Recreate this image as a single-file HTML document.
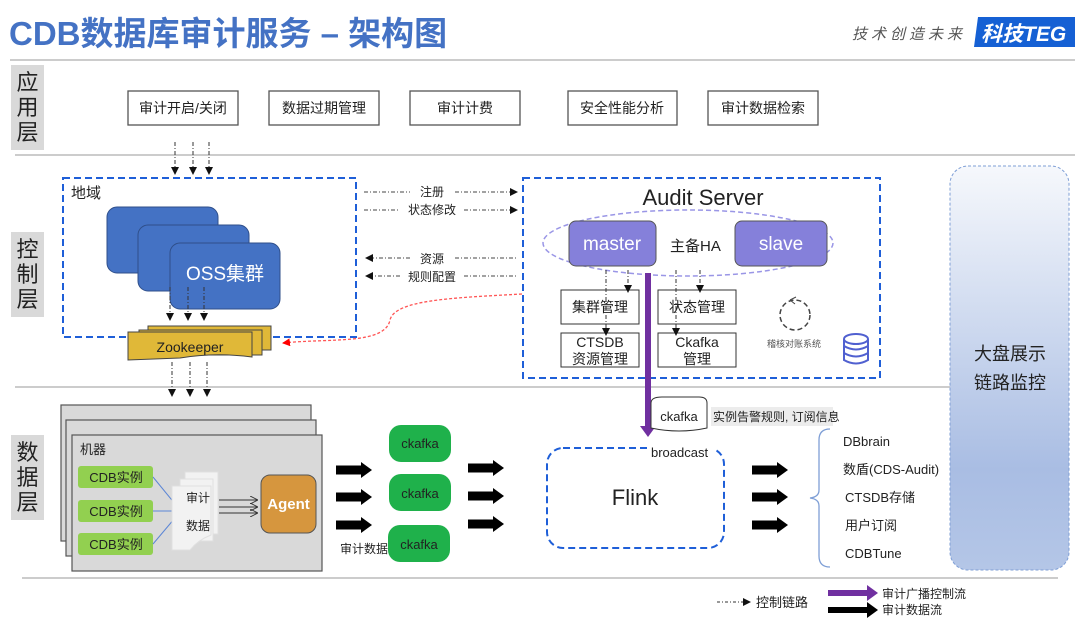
<!DOCTYPE html>
<html><head><meta charset="utf-8">
<style>
html,body{margin:0;padding:0;background:#fff;}
svg{display:block;}
text{font-family:"Liberation Sans","Noto Sans CJK SC",sans-serif;fill:#222;}
</style></head>
<body>
<svg width="1080" height="621" viewBox="0 0 1080 621" xmlns="http://www.w3.org/2000/svg">
<defs>
<marker id="ah" markerWidth="8" markerHeight="8" refX="7" refY="4" orient="auto" markerUnits="userSpaceOnUse"><path d="M0,0 L8,4 L0,8 z" fill="#111"/></marker>
<marker id="ahr" markerWidth="8" markerHeight="8" refX="7" refY="4" orient="auto" markerUnits="userSpaceOnUse"><path d="M0,0 L8,4 L0,8 z" fill="#f00"/></marker>
<marker id="ahs" markerWidth="8" markerHeight="8" refX="7" refY="4" orient="auto" markerUnits="userSpaceOnUse"><path d="M0,0 L8,4 L0,8" fill="none" stroke="#333"/></marker>
<linearGradient id="gbig" x1="0" y1="0" x2="0" y2="1"><stop offset="0" stop-color="#f6f8fc"/><stop offset="0.75" stop-color="#a9bde3"/><stop offset="1" stop-color="#b4c6e7"/></linearGradient>
<g id="barrow"><path d="M0,-4.5 L25,-4.5 L25,-8 L36,0 L25,8 L25,4.5 L0,4.5 z" fill="#000"/></g>
</defs>

<text x="9" y="45" font-size="33" font-weight="bold" style="fill:#4472c4">CDB数据库审计服务 – 架构图</text>
<text x="852" y="39" font-size="15" font-style="italic" style="fill:#555" letter-spacing="4">技术创造未来</text>
<path d="M978,17 L1075,17 L1075,47 L974,47 z" fill="#1560d4"/>
<text x="981" y="41" font-size="21" font-weight="bold" font-style="italic" style="fill:#fff">科技TEG</text>

<line x1="10" y1="60" x2="1075" y2="60" stroke="#ccc" stroke-width="2"/>
<line x1="15" y1="155" x2="1075" y2="155" stroke="#ccc" stroke-width="2"/>
<line x1="15" y1="387" x2="1058" y2="387" stroke="#ccc" stroke-width="2"/>
<line x1="22" y1="578" x2="1058" y2="578" stroke="#ccc" stroke-width="2"/>

<rect x="11" y="65" width="33" height="85" fill="#d9d9d9"/>
<text x="27.5" y="90" font-size="22" text-anchor="middle">应</text>
<text x="27.5" y="115" font-size="22" text-anchor="middle">用</text>
<text x="27.5" y="140" font-size="22" text-anchor="middle">层</text>
<rect x="11" y="232" width="33" height="85" fill="#d9d9d9"/>
<text x="27.5" y="257" font-size="22" text-anchor="middle">控</text>
<text x="27.5" y="282" font-size="22" text-anchor="middle">制</text>
<text x="27.5" y="307" font-size="22" text-anchor="middle">层</text>
<rect x="11" y="435" width="33" height="85" fill="#d9d9d9"/>
<text x="27.5" y="460" font-size="22" text-anchor="middle">数</text>
<text x="27.5" y="485" font-size="22" text-anchor="middle">据</text>
<text x="27.5" y="510" font-size="22" text-anchor="middle">层</text>

<g fill="#fff" stroke="#555" stroke-width="1.3">
<rect x="128" y="91" width="110" height="34"/>
<rect x="269" y="91" width="110" height="34"/>
<rect x="410" y="91" width="110" height="34"/>
<rect x="568" y="91" width="109" height="34"/>
<rect x="708" y="91" width="110" height="34"/>
</g>
<g font-size="14" text-anchor="middle">
<text x="183" y="113">审计开启/关闭</text>
<text x="324" y="113">数据过期管理</text>
<text x="465" y="113">审计计费</text>
<text x="622" y="113">安全性能分析</text>
<text x="763" y="113">审计数据检索</text>
</g>
<g stroke="#333" stroke-dasharray="4,2,1,2" stroke-width="1">
<line x1="175" y1="142" x2="175" y2="174" marker-end="url(#ah)"/>
<line x1="193" y1="142" x2="193" y2="174" marker-end="url(#ah)"/>
<line x1="209" y1="142" x2="209" y2="174" marker-end="url(#ah)"/>
</g>

<rect x="63" y="178" width="293" height="159" fill="none" stroke="#1f5fd8" stroke-width="2" stroke-dasharray="7,4"/>
<text x="71" y="198" font-size="15">地域</text>
<g fill="#4472c4" stroke="#2f4f8a" stroke-width="1">
<rect x="107" y="207" width="111" height="66" rx="10"/>
<rect x="138" y="225" width="111" height="66" rx="10"/>
<rect x="170" y="243" width="110" height="66" rx="10"/>
</g>
<text x="225" y="280" font-size="19" text-anchor="middle" style="fill:#fff">OSS集群</text>
<g stroke="#333" stroke-dasharray="4,2,1,2" stroke-width="1">
<line x1="170" y1="287" x2="170" y2="320" marker-end="url(#ah)"/>
<line x1="188" y1="287" x2="188" y2="320" marker-end="url(#ah)"/>
<line x1="204" y1="287" x2="204" y2="320" marker-end="url(#ah)"/>
</g>
<g fill="#e0b838" stroke="#444" stroke-width="1">
<rect x="148" y="326" width="123" height="24"/>
<rect x="139" y="330" width="123" height="25"/>
<path d="M128,332 L252,332 L252,357 Q215,352 180,358 L128,360 z"/>
</g>
<text x="190" y="352" font-size="14" text-anchor="middle">Zookeeper</text>
<g stroke="#333" stroke-dasharray="4,2,1,2" stroke-width="1">
<line x1="172" y1="362" x2="172" y2="396" marker-end="url(#ah)"/>
<line x1="190" y1="362" x2="190" y2="396" marker-end="url(#ah)"/>
<line x1="207" y1="362" x2="207" y2="396" marker-end="url(#ah)"/>
</g>
<path d="M522,294 C450,298 395,300 390,320 C385,345 330,338 283,343" fill="none" stroke="#f55" stroke-width="1.3" stroke-dasharray="3,2" marker-end="url(#ahr)"/>

<g stroke="#444" stroke-dasharray="4,2,1,2" stroke-width="1" fill="none">
<line x1="364" y1="192" x2="410" y2="192"/><line x1="455" y1="192" x2="517" y2="192" marker-end="url(#ah)"/>
<line x1="364" y1="210" x2="400" y2="210"/><line x1="464" y1="210" x2="517" y2="210" marker-end="url(#ah)"/>
<line x1="410" y1="258" x2="366" y2="258" marker-end="url(#ah)"/><line x1="455" y1="258" x2="518" y2="258"/>
<line x1="400" y1="276" x2="366" y2="276" marker-end="url(#ah)"/><line x1="464" y1="276" x2="518" y2="276"/>
</g>
<g font-size="12" text-anchor="middle">
<text x="432" y="196">注册</text>
<text x="432" y="214">状态修改</text>
<text x="432" y="263">资源</text>
<text x="432" y="281">规则配置</text>
</g>

<rect x="523" y="178" width="357" height="200" fill="none" stroke="#1f5fd8" stroke-width="2" stroke-dasharray="7,4"/>
<text x="703" y="205" font-size="22" text-anchor="middle">Audit Server</text>
<ellipse cx="688" cy="243" rx="145" ry="33" fill="none" stroke="#9a96e6" stroke-width="1.5" stroke-dasharray="5,3"/>
<rect x="569" y="221" width="87" height="45" rx="7" fill="#8580da" stroke="#555"/>
<rect x="735" y="221" width="92" height="45" rx="7" fill="#8580da" stroke="#555"/>
<text x="612" y="250" font-size="19" text-anchor="middle" style="fill:#fff">master</text>
<text x="781" y="250" font-size="19" text-anchor="middle" style="fill:#fff">slave</text>
<text x="670" y="251" font-size="15">主备HA</text>
<g fill="#fff" stroke="#333" stroke-width="1">
<rect x="561" y="290" width="78" height="34"/>
<rect x="658" y="290" width="78" height="34"/>
<rect x="561" y="333" width="78" height="34"/>
<rect x="658" y="333" width="78" height="34"/>
</g>
<g font-size="14" text-anchor="middle">
<text x="600" y="312">集群管理</text>
<text x="697" y="312">状态管理</text>
<text x="600" y="347">CTSDB</text>
<text x="600" y="364">资源管理</text>
<text x="697" y="347">Ckafka</text>
<text x="697" y="364">管理</text>
</g>
<g stroke="#333" stroke-dasharray="4,2,1,2" stroke-width="1">
<line x1="606" y1="270" x2="606" y2="335" marker-end="url(#ah)"/>
<line x1="628" y1="270" x2="628" y2="292" marker-end="url(#ah)"/>
<line x1="676" y1="270" x2="676" y2="335" marker-end="url(#ah)"/>
<line x1="700" y1="270" x2="700" y2="292" marker-end="url(#ah)"/>
</g>
<circle cx="795" cy="315" r="15" fill="none" stroke="#444" stroke-width="1.5" stroke-dasharray="5,3"/>
<path d="M790,300 L796,297 M790,300 L795,304" stroke="#444" fill="none"/>
<text x="794" y="347" font-size="9" text-anchor="middle" style="fill:#555">稽核对账系统</text>
<g fill="none" stroke="#5060d0" stroke-width="2">
<ellipse cx="856" cy="339" rx="12" ry="5"/>
<path d="M844,339 L844,360 Q856,367 868,360 L868,339"/>
<path d="M844,346 Q856,353 868,346 M844,353 Q856,360 868,353"/>
</g>

<rect x="645" y="273" width="6" height="155" fill="#7030a0"/>
<path d="M640,426 L656,426 L648,437 z" fill="#7030a0"/>

<rect x="950" y="166" width="119" height="404" rx="18" fill="url(#gbig)" stroke="#7f9fd6" stroke-dasharray="3,2"/>
<text x="1010" y="360" font-size="18" text-anchor="middle">大盘展示</text>
<text x="1010" y="389" font-size="18" text-anchor="middle">链路监控</text>

<g fill="#d9d9d9" stroke="#555" stroke-width="1.2">
<rect x="61" y="405" width="250" height="136"/>
<rect x="66" y="420" width="250" height="136"/>
<rect x="72" y="435" width="250" height="136"/>
</g>
<text x="80" y="454" font-size="13">机器</text>
<g fill="#92d050">
<rect x="78" y="466" width="75" height="22" rx="3"/>
<rect x="78" y="500" width="75" height="22" rx="3"/>
<rect x="78" y="533" width="75" height="22" rx="3"/>
</g>
<g font-size="13" text-anchor="middle">
<text x="116" y="482">CDB实例</text>
<text x="116" y="516">CDB实例</text>
<text x="116" y="549">CDB实例</text>
</g>
<g stroke="#5b86d6" stroke-width="1" fill="none">
<line x1="153" y1="477" x2="180" y2="510" marker-end="url(#ahs)"/>
<line x1="153" y1="511" x2="180" y2="511" marker-end="url(#ahs)"/>
<line x1="153" y1="544" x2="180" y2="512" marker-end="url(#ahs)"/>
</g>
<g fill="#f2f2f2" stroke="#e0e0e0">
<rect x="185" y="472" width="33" height="62"/>
<rect x="180" y="479" width="33" height="62"/>
<path d="M172,486 L211,486 L211,535 Q198,540 190,550 L172,550 z"/>
</g>
<text x="186" y="502" font-size="12">审计</text>
<text x="186" y="530" font-size="12">数据</text>
<g stroke="#333" stroke-width="1" fill="none">
<line x1="219" y1="500" x2="257" y2="500" marker-end="url(#ahs)"/>
<line x1="219" y1="507" x2="257" y2="507" marker-end="url(#ahs)"/>
<line x1="219" y1="513" x2="257" y2="513" marker-end="url(#ahs)"/>
</g>
<rect x="261" y="475" width="55" height="58" rx="9" fill="#d6963e" stroke="#555"/>
<text x="288.5" y="509" font-size="15" font-weight="bold" text-anchor="middle" style="fill:#fff">Agent</text>

<use href="#barrow" x="336" y="470"/><use href="#barrow" x="336" y="497"/><use href="#barrow" x="336" y="525"/>
<text x="340" y="553" font-size="12">审计数据</text>
<g fill="#1fb14b">
<rect x="389" y="425" width="62" height="37" rx="12"/>
<rect x="389" y="474" width="62" height="37" rx="12"/>
<rect x="388" y="525" width="62" height="37" rx="12"/>
</g>
<g font-size="13" text-anchor="middle">
<text x="420" y="448">ckafka</text>
<text x="420" y="498">ckafka</text>
<text x="419" y="549">ckafka</text>
</g>
<use href="#barrow" x="468" y="468"/><use href="#barrow" x="468" y="496"/><use href="#barrow" x="468" y="524"/>

<path d="M651,403 Q651,397 662,397 L699,397 Q707,397 707,403 L707,428 Q679,434 651,428 z" fill="#fff" stroke="#333"/>
<text x="679" y="421" font-size="13" text-anchor="middle">ckafka</text>
<rect x="711" y="407" width="122" height="19" fill="#ececec"/>
<text x="713" y="421" font-size="12">实例告警规则, 订阅信息</text>

<rect x="547" y="448" width="177" height="100" rx="16" fill="none" stroke="#1f5fd8" stroke-width="2" stroke-dasharray="7,4"/>
<rect x="648" y="444" width="68" height="14" fill="#fff"/>
<text x="651" y="457" font-size="13">broadcast</text>
<text x="635" y="505" font-size="22" text-anchor="middle">Flink</text>
<use href="#barrow" x="752" y="470"/><use href="#barrow" x="752" y="497"/><use href="#barrow" x="752" y="525"/>

<path d="M830,429 Q819,429 819,440 L819,490 Q819,497 810,498 Q819,499 819,506 L819,556 Q819,567 830,567" fill="none" stroke="#7f9fd6" stroke-width="1.3"/>
<g font-size="13">
<text x="843" y="446">DBbrain</text>
<text x="843" y="474">数盾(CDS-Audit)</text>
<text x="845" y="502">CTSDB存储</text>
<text x="845" y="530">用户订阅</text>
<text x="845" y="558">CDBTune</text>
</g>

<line x1="717" y1="602" x2="750" y2="602" stroke="#333" stroke-dasharray="3,2,1,2" marker-end="url(#ah)"/>
<text x="756" y="607" font-size="13">控制链路</text>
<path d="M828,590 L867,590 L867,585 L878,593 L867,601 L867,596 L828,596 z" fill="#7030a0"/>
<path d="M828,607 L867,607 L867,602 L878,610 L867,618 L867,613 L828,613 z" fill="#000"/>
<text x="882" y="598" font-size="12">审计广播控制流</text>
<text x="882" y="614" font-size="12">审计数据流</text>
</svg>
</body></html>
